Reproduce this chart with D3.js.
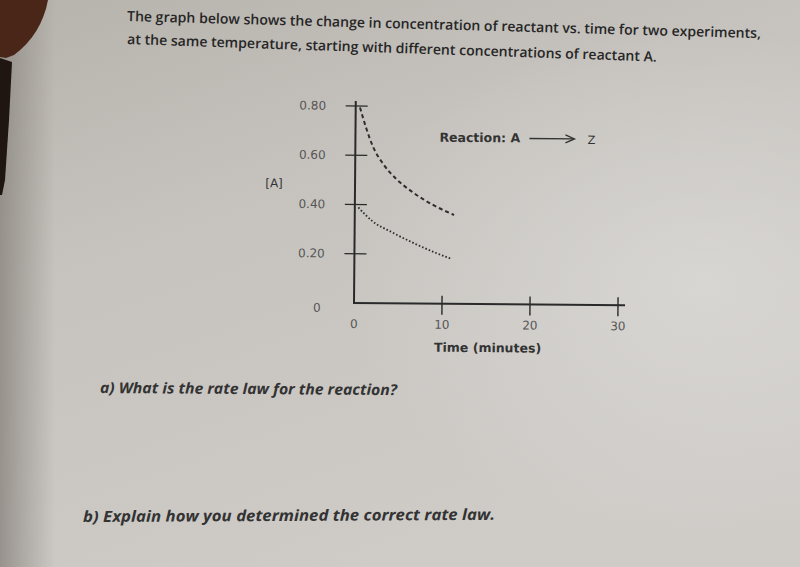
<!DOCTYPE html>
<html><head><meta charset="utf-8">
<script src="https://cdn.jsdelivr.net/npm/d3@7"></script>
<style>html,body{margin:0;padding:0;overflow:hidden;background:#cfccc8}</style>
</head><body>
<script>
// ---- data ----
const xTicks = [0, 10, 20, 30];
const yTicks = [0.20, 0.40, 0.60, 0.80];
const yTickLabels = ["0.20", "0.40", "0.60", "0.80"];
const exp1Time = [0.49, 1.19, 2.01, 3.15, 4.66, 6.56, 8.83, 11.28];
const exp1Conc = [0.794, 0.713, 0.635, 0.567, 0.506, 0.452, 0.402, 0.361];
const exp2Time = [0.40, 2.01, 4.28, 6.93, 9.20, 11.10];
const exp2Conc = [0.388, 0.333, 0.288, 0.242, 0.207, 0.182];
const titleLines = [
  "The graph below shows the change in concentration of reactant vs. time for two experiments,",
  "at the same temperature, starting with different concentrations of reactant A."
];
const questions = [
  "a) What is the rate law for the reaction?",
  "b) Explain how you determined the correct rate law."
];

const W = 800, H = 567;
const svg = d3.select("body").append("svg").attr("width", W).attr("height", H);
const defs = svg.append("defs");

// paper background
const g1 = defs.append("linearGradient").attr("id","paper").attr("x1","0").attr("y1","0").attr("x2","0.5").attr("y2","1");
g1.append("stop").attr("offset","0").attr("stop-color","#b6b2ac");
g1.append("stop").attr("offset","0.4").attr("stop-color","#c6c3be");
g1.append("stop").attr("offset","1").attr("stop-color","#cfccc8");
svg.append("rect").attr("width",W).attr("height",H).attr("fill","url(#paper)");
const g2 = defs.append("radialGradient").attr("id","light").attr("cx","0.88").attr("cy","0.5").attr("r","0.45");
g2.append("stop").attr("offset","0").attr("stop-color","#dcdad7").attr("stop-opacity",0.75);
g2.append("stop").attr("offset","1").attr("stop-color","#dcdad7").attr("stop-opacity",0);
svg.append("rect").attr("width",W).attr("height",H).attr("fill","url(#light)");
// dark left edge shadow
const g3 = defs.append("linearGradient").attr("id","edge").attr("x1","0").attr("y1","0").attr("x2","1").attr("y2","0");
g3.append("stop").attr("offset","0").attr("stop-color","#8a857f").attr("stop-opacity",0.8);
g3.append("stop").attr("offset","1").attr("stop-color","#8a857f").attr("stop-opacity",0);
svg.append("rect").attr("x",0).attr("y",0).attr("width",55).attr("height",H).attr("fill","url(#edge)");
// dark corner (object in photo)
svg.append("path").attr("d","M0,58 L12,62 L9,120 L5,180 L2,195 L0,195 Z").attr("fill","#1f1612");
svg.append("path").attr("d","M0,0 L48,0 C44,22 32,42 14,55 L6,58 L0,57 Z").attr("fill","#4a2619");

// title
const titleFont = "'Open Sans', sans-serif";
const tl = [{x:127,y:21,len:634,rot:1.55},{x:127,y:44,len:530,rot:1.9}];
titleLines.forEach((t,i)=>{
  svg.append("text").attr("transform",`translate(${tl[i].x},${tl[i].y}) rotate(${tl[i].rot})`)
    .attr("font-family",titleFont).attr("font-weight",600).attr("font-size",14)
    .attr("fill","#262626").attr("textLength",tl[i].len).attr("lengthAdjust","spacingAndGlyphs").text(t);
});

// chart scales
const x = d3.scaleLinear().domain([0,30]).range([354,618]);
const y = d3.scaleLinear().domain([0,0.8]).range([303,106]);
const ink = "#2a2a2a";
const chart = svg.append("g").attr("transform","rotate(0.5,354,303)");

// axes lines
chart.append("line").attr("x1",x(0)).attr("x2",x(0)).attr("y1",y(0.82)).attr("y2",y(0)).attr("stroke",ink).attr("stroke-width",2);
chart.append("line").attr("x1",x(0)-1).attr("x2",x(30)+7).attr("y1",y(0)).attr("y2",y(0)).attr("stroke",ink).attr("stroke-width",2);

// y ticks
chart.selectAll(".yt").data(yTicks).join("line")
  .attr("x1",x(0)-10).attr("x2",x(0)+12).attr("y1",d=>y(d)).attr("y2",d=>y(d)).attr("stroke",ink).attr("stroke-width",1.4);
const lblFont = "'DejaVu Sans', sans-serif";
chart.selectAll(".yl").data(yTicks).join("text")
  .attr("x",x(0)-43).attr("y",d=>y(d)+4).attr("text-anchor","middle")
  .attr("font-family",lblFont).attr("font-size",12).attr("fill","#555")
  .text((d,i)=>yTickLabels[i]);
chart.append("text").attr("x",x(0)-37).attr("y",y(0)+9).attr("text-anchor","middle")
  .attr("font-family",lblFont).attr("font-size",12).attr("fill","#555").text("0");

// x ticks
chart.selectAll(".xt").data(xTicks.filter(d=>d>0)).join("line")
  .attr("x1",d=>x(d)).attr("x2",d=>x(d)).attr("y1",y(0)-8).attr("y2",y(0)+11).attr("stroke",ink).attr("stroke-width",1.4);
chart.selectAll(".xl").data(xTicks).join("text")
  .attr("x",d=>x(d)).attr("y",y(0)+25).attr("text-anchor","middle")
  .attr("font-family",lblFont).attr("font-size",12).attr("fill","#555").text(d=>d);

// axis labels
chart.append("text").attr("x",488).attr("y",351).attr("text-anchor","middle")
  .attr("font-family",lblFont).attr("font-size",12.5).attr("font-weight",600).attr("fill","#333").text("Time (minutes)");
chart.append("text").attr("x",273).attr("y",188).attr("text-anchor","middle")
  .attr("font-family",lblFont).attr("font-size",12).attr("fill","#333").text("[A]");

// reaction annotation
chart.append("text").attr("x",438).attr("y",141)
  .attr("font-family",lblFont).attr("font-size",12.5).attr("font-weight",600).attr("fill","#333").text("Reaction: A");
chart.append("line").attr("x1",528).attr("x2",572).attr("y1",137).attr("y2",137).attr("stroke","#333").attr("stroke-width",1.4);
chart.append("path").attr("d","M564,133 L573,137 L564,141").attr("fill","none").attr("stroke","#333").attr("stroke-width",1.4);
chart.append("text").attr("x",586).attr("y",142)
  .attr("font-family",lblFont).attr("font-size",11.5).attr("fill","#333").text("Z");

// curves
const line = d3.line().x(d=>x(d[0])).y(d=>y(d[1])).curve(d3.curveMonotoneX);
chart.append("path").datum(exp1Time.map((t,i)=>[t,exp1Conc[i]]))
  .attr("d",line).attr("fill","none").attr("stroke","#2e2e2e").attr("stroke-width",2).attr("stroke-dasharray","4,3");
chart.append("path").datum(exp2Time.map((t,i)=>[t,exp2Conc[i]]))
  .attr("d",line).attr("fill","none").attr("stroke","#2e2e2e").attr("stroke-width",1.8).attr("stroke-dasharray","1.6,2");

// questions
const qFont = "'Open Sans', sans-serif";
svg.append("text").attr("transform","translate(100,393) rotate(0.4)")
  .attr("font-family",qFont).attr("font-weight",700).attr("font-style","italic").attr("font-size",15)
  .attr("fill","#333").attr("textLength",297).attr("lengthAdjust","spacingAndGlyphs").text(questions[0]);
svg.append("text").attr("transform","translate(83,522) rotate(-0.3)")
  .attr("font-family",qFont).attr("font-weight",700).attr("font-style","italic").attr("font-size",15.5)
  .attr("fill","#333").attr("textLength",412).attr("lengthAdjust","spacingAndGlyphs").text(questions[1]);
</script>
</body></html>
